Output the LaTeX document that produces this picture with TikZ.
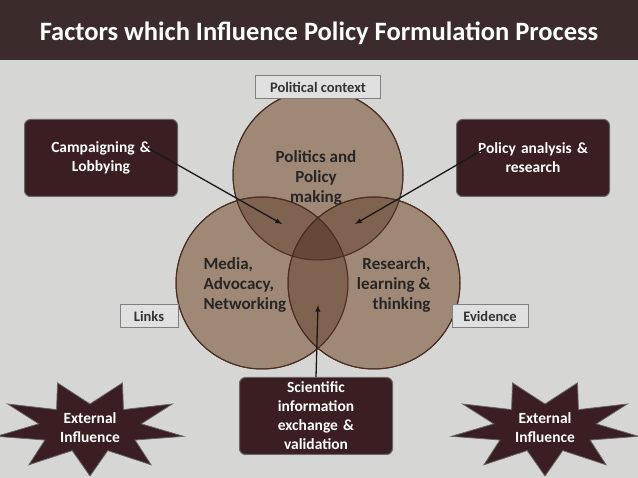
\documentclass[tikz,border=0pt]{standalone}
\usepackage{fontspec}
\setmainfont{Carlito}
\definecolor{bg}{HTML}{D6D6D4}
\definecolor{titlebar}{HTML}{3B2B2B}
\definecolor{darkbox}{HTML}{3A1E22}
\definecolor{circ}{HTML}{8E6E58}
\definecolor{circedge}{HTML}{4A2E22}
\tikzset{
  darkbox/.style={draw=black!60,line width=1pt,fill=darkbox,rounded corners=6pt,text=white,font=\bfseries\fontsize{15.5}{19}\selectfont,align=center,minimum width=153pt,minimum height=77pt,text width=145pt},
  tag/.style={draw=black!50,fill=black!12,font=\bfseries\fontsize{14.5}{16}\selectfont,text=black!80,minimum height=23pt,inner xsep=7pt},
  venn/.style={fill=circ,fill opacity=0.75,draw=circedge,line width=1pt},
  clab/.style={font=\bfseries\fontsize{17}{20}\selectfont,text=black!85},
  startext/.style={text=white,font=\bfseries\fontsize{15.5}{19}\selectfont,align=center},
  starfill/.style={fill=darkbox,draw=black!60,line width=0.8pt},
  arr/.style={-latex,line width=1.3pt,black!90}
}
\begin{document}
\begin{tikzpicture}[x=1pt,y=-1pt]
\fill[bg] (0,0) rectangle (638,478);
\useasboundingbox (0,0) rectangle (638,478);
\fill[titlebar] (0,0) rectangle (638,60);
\node[text=white,font=\bfseries\fontsize{26.5}{30}\selectfont] (title) at (319,33) {Factors which Influence Policy Formulation Process};
% circles
\path[venn] (318,175) circle (85);
\path[venn] (262,283) circle (86);
\path[venn] (374,283) circle (86);
\begin{scope}
 \clip (318,175) circle (85);
 \fill[circedge,opacity=0.25] (262,283) circle (86);
 \fill[circedge,opacity=0.25] (374,283) circle (86);
\end{scope}
\begin{scope}
 \clip (262,283) circle (86);
 \fill[circedge,opacity=0.25] (374,283) circle (86);
\end{scope}
\draw[circedge,line width=1pt] (318,175) circle (85) (262,283) circle (86) (374,283) circle (86);
\node[clab,align=center] (pol) at (316,178) {Politics and\\Policy\\making};
\node[clab,align=left,anchor=west] (med) at (200,285) {Media,\\Advocacy,\\Networking};
\node[clab,align=right,anchor=east] (res) at (434,285) {Research,\\learning \&\\thinking};
% tags
\node[tag,minimum width=125pt] (pc) at (318,87) {Political context};
\node[tag,minimum width=58pt] (links) at (149,316) {Links};
\node[tag,minimum width=76pt] (ev) at (490,316) {Evidence};
% boxes
\node[darkbox] (camp) at (101,158) {Campaigning \&\\Lobbying\\[20pt]};
\node[darkbox] (pa) at (533,158) {Policy analysis \&\\research\\[20pt]};
\node[darkbox] (sci) at (316,416) {Scientific\\information\\exchange \&\\validation};
\coordinate (c1) at (282,224);
\coordinate (c2) at (355,224);
\coordinate (c3) at (318,305);
\draw[arr] (camp.east) ++(-30,-10) -- (c1);
\draw[arr] (pa.west) ++(30,-10) -- (c2);
\draw[arr] (sci.north) -- (c3);
% stars
\foreach \cx/\nm in {90/s1,545/s2}{
  \path[starfill] plot[samples at={0,...,17}] ({\cx+(mod(\x,2)==0 ? 95 : 52)*cos(\x*20+10)},{428+(mod(\x,2)==0 ? 48 : 24)*sin(\x*20+10)}) -- cycle;
  \node[startext] (\nm) at (\cx,428) {External\\Influence};
}
\end{tikzpicture}
\end{document}
